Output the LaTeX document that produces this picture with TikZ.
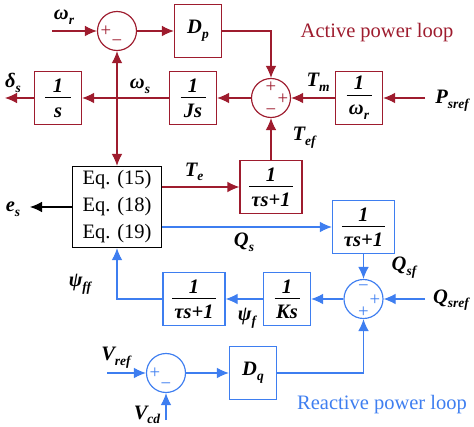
\documentclass[tikz,border=0pt]{standalone}
\usepackage{fontspec}
\setmainfont{Liberation Serif}
\usetikzlibrary{arrows.meta}
\definecolor{actred}{RGB}{158,28,46}
\definecolor{reablue}{RGB}{62,126,240}
\newcommand\vlab[2]{{\bfseries\itshape #1\raisebox{-0.5ex}{\fontsize{11.5}{11.5}\selectfont #2}}}
\newcommand\frc[3]{\shortstack{{\bfseries\itshape #1}\\[1pt]\rule{#3}{1pt}\\[2pt]{\bfseries\itshape #2\vphantom{J}}}}
\tikzset{
  blk/.style={draw, line width=1pt, minimum width=1.41cm, minimum height=1.6cm, inner sep=0pt, font=\fontsize{17.5}{20}\selectfont},
  rblk/.style={blk, draw=actred}, bblk/.style={blk, draw=reablue},
  wide/.style={minimum width=1.86cm},
  sumr/.style={circle, draw=actred, line width=1pt, minimum size=1.17cm, inner sep=0pt},
  sumb/.style={sumr, draw=reablue},
  sgn/.style={font=\fontsize{16}{16}\selectfont, inner sep=0pt},
  lab/.style={font=\fontsize{17.5}{20}\selectfont, inner sep=0pt},
  flow/.style={-{Latex[length=3.6mm, width=3.2mm]}, line width=1pt},
  rflow/.style={flow, actred}, bflow/.style={flow, reablue},
}
\begin{document}
\begin{tikzpicture}[x=0.03cm, y=-0.03cm]
  \useasboundingbox (0,0) rectangle (474,427);
  % active power loop
  \node[sumr] (s1) at (117,31) {};
  \node[sumr] (s2) at (271,98) {};
  \node[rblk] (dp) at (198,31) {\bfseries\itshape D\raisebox{-0.5ex}{\fontsize{11.5}{11.5}\selectfont p}};
  \node[rblk] (iwr) at (359,98) {\frc{1}{ω\raisebox{-0.5ex}{\fontsize{11.5}{11.5}\selectfont r}}{7.5mm}};
  \node[rblk] (js) at (193,98) {\frc{1}{Js}{7.5mm}};
  \node[rblk] (invs) at (58,98) {\frc{1}{s}{7.5mm}};
  \node[rblk, wide] (lpf1) at (271,187) {\frc{1}{τs+1}{13mm}};
  \node[draw, line width=1pt, minimum width=2.67cm, minimum height=2.43cm, align=center,
        font=\fontsize{17.5}{23}\selectfont] (eq) at (117,207) {Eq. (15)\\Eq. (18)\\Eq. (19)};
  % reactive power loop
  \node[bblk, wide] (lpf2) at (363.5,227) {\frc{1}{τs+1}{13mm}};
  \node[sumb] (s3) at (363.5,299) {};
  \node[bblk] (ks) at (287,299) {\frc{1}{Ks}{7.5mm}};
  \node[bblk, wide] (lpf3) at (194,299) {\frc{1}{τs+1}{13mm}};
  \node[sumb] (s4) at (166,373) {};
  \node[bblk] (dq) at (253,373) {\bfseries\itshape D\raisebox{-0.5ex}{\fontsize{11.5}{11.5}\selectfont q}};
  % free ends
  \coordinate (wr) at (52,31);
  \coordinate (psref) at (425,98);
  \coordinate (ds) at (5,98);
  \coordinate (jn) at (117,98);
  \coordinate (es) at (30,207);
  \coordinate (qsref) at (425,299);
  \coordinate (vref) at (107,373);
  \coordinate (vcd) at (166,420);
  % signs
  \node[sgn, actred] (s1a) at (106,31) {+};
  \node[sgn, actred] (s1b) at (117,43) {−};
  \node[sgn, actred] (s2a) at (271,87) {+};
  \node[sgn, actred] (s2b) at (283,99) {+};
  \node[sgn, actred] (s2c) at (271,112) {−};
  \node[sgn, reablue] (s3a) at (363.5,288) {−};
  \node[sgn, reablue] (s3b) at (375,300) {+};
  \node[sgn, reablue] (s3c) at (363.5,312) {+};
  \node[sgn, reablue] (s4a) at (155,373) {+};
  \node[sgn, reablue] (s4b) at (166,386) {−};
  % labels
  \node[lab] (lwr) at (64,17) {\vlab{ω}{r}};
  \node[lab] (lws) at (140,86) {\vlab{ω}{s}};
  \node[lab] (lds) at (13,83) {\vlab{δ}{s}};
  \node[lab] (ltm) at (318,82) {\vlab{T}{m}};
  \node[lab] (lps) at (452,101) {\vlab{P}{sref}};
  \node[lab] (ltef) at (304,138) {\vlab{T}{ef}};
  \node[lab] (lte) at (194,172) {\vlab{T}{e}};
  \node[lab] (les) at (13,209) {\vlab{e}{s}};
  \node[lab] (lqs) at (244,242) {\vlab{Q}{s}};
  \node[lab] (lqsf) at (404,268) {\vlab{Q}{sf}};
  \node[lab] (lqsr) at (451,300) {\vlab{Q}{sref}};
  \node[lab] (lpf) at (247,318) {\vlab{ψ}{f}};
  \node[lab] (lpff) at (80,284) {\vlab{ψ}{ff}};
  \node[lab] (lvr) at (116,358) {\vlab{V}{ref}};
  \node[lab] (lvc) at (147,415) {\vlab{V}{cd}};
  \node[lab, actred] (tact) at (377,33) {Active power loop};
  \node[lab, reablue] (trea) at (382,405) {Reactive power loop};
  % connectors
  \draw[rflow] (wr) -- (s1);
  \draw[rflow] (s1) -- (dp);
  \draw[rflow] (dp.east) -| (s2.north);
  \draw[rflow] (psref) -- (iwr);
  \draw[rflow] (iwr) -- (s2);
  \draw[rflow] (s2) -- (js);
  \draw[rflow] (js) -- (invs);
  \draw[rflow] (invs) -- (ds);
  \draw[rflow] (jn) -- (s1.south);
  \draw[rflow] (jn) -- (eq.north);
  \draw[rflow] (eq.east |- lpf1) -- (lpf1);
  \draw[rflow] (lpf1) -- (s2);
  \draw[flow] (eq.west) -- (es);
  \draw[bflow] (eq.east |- lpf2) -- (lpf2);
  \draw[bflow] (lpf2) -- (s3);
  \draw[bflow] (qsref) -- (s3);
  \draw[bflow] (s3) -- (ks);
  \draw[bflow] (ks) -- (lpf3);
  \draw[bflow] (lpf3.west) -| (eq.south);
  \draw[bflow] (vref) -- (s4);
  \draw[bflow] (vcd) -- (s4);
  \draw[bflow] (s4) -- (dq);
  \draw[bflow] (dq.east) -| (s3.south);
\end{tikzpicture}
\end{document}
